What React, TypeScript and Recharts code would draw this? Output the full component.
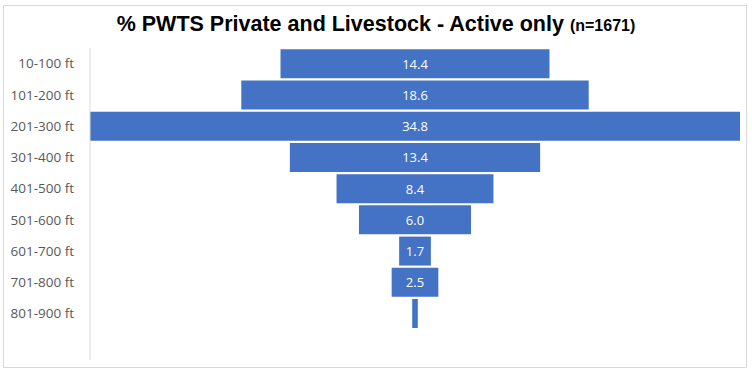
import { BarChart, Bar, XAxis, YAxis, LabelList } from 'recharts';

const depthBands = [
  '10-100 ft',
  '101-200 ft',
  '201-300 ft',
  '301-400 ft',
  '401-500 ft',
  '501-600 ft',
  '601-700 ft',
  '701-800 ft',
  '801-900 ft',
];
const pctValues = [14.4, 18.6, 34.8, 13.4, 8.4, 6.0, 1.7, 2.5, 0.3];

const BLUE = '#4472C4';
const maxPct = Math.max(...pctValues);

// funnel: invisible spacer bar + visible value bar, stacked
const data = depthBands.map((band, i) => ({
  band,
  spacer: (maxPct - pctValues[i]) / 2,
  pct: pctValues[i],
}));

const renderLabel = (props: any) => {
  const { x, y, width, height, value } = props;
  if (value < 1) return null;
  return (
    <text
      x={x + width / 2}
      y={y + height / 2}
      fill="#ffffff"
      fontSize={13}
      fontFamily="Open Sans, sans-serif"
      textAnchor="middle"
      dominantBaseline="central"
    >
      {Number(value).toFixed(1)}
    </text>
  );
};

export default function App() {
  return (
    <div
      style={{
        position: 'absolute',
        left: 0,
        top: 0,
        width: 752,
        height: 373,
        background: '#fff',
      }}
    >
      <div
        style={{
          position: 'absolute',
          left: 3,
          top: 5,
          width: 744,
          height: 363,
          border: '1px solid #d9d9d9',
          boxSizing: 'border-box',
        }}
      />
      <div
        style={{
          position: 'absolute',
          left: 0,
          top: 12,
          width: 752,
          textAlign: 'center',
          fontFamily: 'Liberation Sans, Arial, sans-serif',
          fontWeight: 'bold',
          fontSize: 21.5,
          color: '#000',
          whiteSpace: 'nowrap',
        }}
      >
        % PWTS Private and Livestock - Active only{' '}
        <span style={{ fontSize: 16 }}>(n=1671)</span>
      </div>
      <div style={{ position: 'absolute', left: 0, top: 0 }}>
        <BarChart
          width={752}
          height={373}
          data={data}
          layout="vertical"
          margin={{ top: 48, right: 12, left: 0, bottom: 13 }}
          barCategoryGap="4%"
        >
          <XAxis type="number" hide domain={[0, maxPct]} />
          <YAxis
            type="category"
            dataKey="band"
            width={90}
            padding={{ top: 0, bottom: 31 }}
            tickLine={false}
            axisLine={{ stroke: '#d9d9d9' }}
            tick={{ fill: '#595959', fontSize: 13.5, fontFamily: 'Open Sans, sans-serif' }}
            tickMargin={10}
          />
          <Bar dataKey="spacer" stackId="f" fill="transparent" isAnimationActive={false} />
          <Bar dataKey="pct" stackId="f" fill={BLUE} isAnimationActive={false}>
            <LabelList dataKey="pct" content={renderLabel} />
          </Bar>
        </BarChart>
      </div>
    </div>
  );
}
